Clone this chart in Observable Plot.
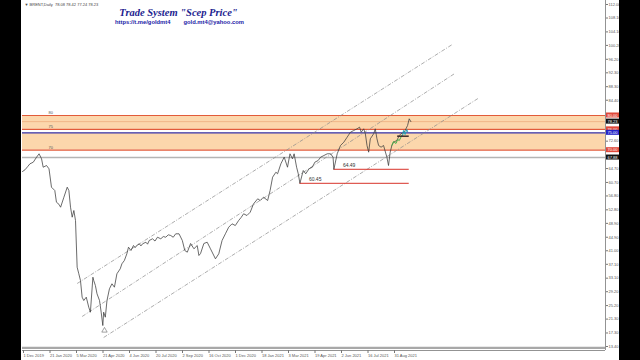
<!DOCTYPE html>
<html><head><meta charset="utf-8">
<script src="https://cdn.jsdelivr.net/npm/d3@7"></script>
<script src="https://cdn.jsdelivr.net/npm/@observablehq/plot@0.6"></script>
<style>
html,body{margin:0;padding:0;background:#fff;width:640px;height:360px;overflow:hidden;}
#wrap{position:relative;width:640px;height:360px;}
#chart svg{display:block;}
.blk{position:absolute;top:0;height:360px;background:#000;}
</style></head><body>
<div id="wrap"><div id="chart"></div><div class="blk" style="left:0;width:21px"></div><div class="blk" style="left:619px;width:21px"></div></div>
<script>
// ---- data ----
const dateLabels = ["1 Dec 2019","21 Jan 2020","5 Mar 2020","21 Apr 2020","4 Jun 2020","20 Jul 2020","2 Sep 2020","16 Oct 2020","1 Dec 2020","18 Jan 2021","3 Mar 2021","19 Apr 2021","2 Jun 2021","16 Jul 2021","31 Aug 2021"];
const barsPerLabel = 32;
const yTicks = [13.40,17.30,21.30,25.20,29.20,33.10,37.10,41.00,44.90,48.90,52.80,56.80,60.70,64.70,72.60,84.40,88.30,92.30,96.20,100.20,104.10,108.10,112.00];

const barIdx = [0,3,6,9,13,17,20,23,25,29,32,35,39,41,44,46,50,54,56,58,60,62,64,66,68,70,72,74,77,80,82,85,86,88,90,93,95,97,98,100,102,105,108,111,114,118,120,123,126,128,131,134,136,138,141,143,145,149,151,153,157,160,163,167,170,173,176,179,182,185,189,193,196,199,203,207,211,213,215,219,223,227,233,237,241,245,249,253,257,261,264,267,271,275,279,284,287,291,296,299,302,306,308,312,316,320,323,326,328,331,333,335,339,342,346,350,353,357,360,364,368,372,375,376,380,384,388,392,396,400,404,407,409,412,414,416,418,420,424,426,428,430,433,436,440,442,444,446,448,452,455,457,461,463,465,467,469];
const closes = [63.85,64.34,65.20,66.07,66.53,67.98,68.96,67.51,65.09,65.58,64.63,59.33,58.37,55.00,54.40,53.56,56.44,59.33,58.37,53.56,50.68,52.61,49.73,36.26,34.36,32.43,27.62,26.66,27.62,24.73,23.29,33.38,32.43,30.99,28.59,26.66,23.29,19.45,23.29,21.85,26.66,30.03,31.48,30.50,34.36,35.80,37.24,38.19,40.13,42.03,41.08,42.52,41.90,42.52,43.01,42.40,43.01,43.47,42.90,43.96,44.45,43.80,44.91,44.45,45.10,44.91,45.60,45.40,44.90,45.89,45.89,43.96,41.08,40.59,43.10,41.57,42.52,39.64,40.21,43.10,43.47,41.57,38.68,40.13,43.96,45.89,47.79,48.77,48.28,49.73,50.60,51.66,51.17,52.12,54.54,55.98,55.49,56.44,55.49,58.37,62.21,63.65,63.19,66.07,68.00,65.09,68.96,67.51,68.96,65.09,63.19,60.45,64.14,63.19,64.63,65.09,66.53,67.02,67.98,68.47,68.96,68.96,67.98,64.49,68.96,71.35,72.30,73.74,75.18,75.67,76.16,76.63,75.18,76.16,74.72,71.35,69.42,73.28,74.72,76.16,73.28,71.35,70.86,71.35,67.98,65.58,69.42,71.35,72.30,72.79,74.23,74.72,75.18,76.16,77.11,79.05,78.23];

const channelStartIdx = [66, 72, 98];
const channelStartVal = [31.56, 22.05, 16.00];
const channelEndIdx = [519, 522, 550];
const channelEndVal = [100.47, 92.11, 84.90];

const bandTop = [80, 75];
const bandBottom = [76, 70];
const redLevels = [80.00, 76.00, 70.00];
const blueLevels = [75.00];
const bidLevel = [78.23];
const greyLevels = [67.88];
const levelTags = ["80", "75", "70"];
const levelTagVals = [80, 76, 70];

const supports = [60.45, 64.49];
const supportStart = [335, 376];
const supportEnd = [467, 467];

const greenIdx = [446, 448, 451, 453, 455, 458];
const greenVal = [71.35, 72.50, 71.93, 73.08, 72.79, 74.23];
const cyanIdx = [459, 460, 462, 464, 465];
const cyanVal = [74.23, 75.67, 74.52, 75.96, 75.38];
const markerBar = [{i: 453, j: 467, v: 74.03}];
const lowMarker = [{i: 99, v: 18.0}];

const header = "▼ BRENT,Daily  78.08 78.42 77.24 78.23";
const title = "Trade System \"Scep Price\"";
const link1 = "https://t.me/goldmt4";
const link2 = "gold.mt4@yahoo.com";

// ---- chart ----
const closeData = barIdx.map((i, k) => ({i, v: closes[k]}));
const channels = channelStartIdx.map((s, k) => ({x1: s, y1: channelStartVal[k], x2: channelEndIdx[k], y2: channelEndVal[k]}));
const bands = bandTop.map((t, k) => ({t, b: bandBottom[k]}));
const supportData = supports.map((v, k) => ({v, s: supportStart[k], e: supportEnd[k]}));
const green = greenIdx.map((i, k) => ({i, v: greenVal[k]}));
const cyan = cyanIdx.map((i, k) => ({i, v: cyanVal[k]}));
const tags = levelTags.map((t, k) => ({t, v: levelTagVals[k]}));
const XMAX = 704;
const TICKFONT = "Liberation Sans";

function priceTag(vals, fill) {
  return [
    Plot.rect(vals, {x1: XMAX, x2: XMAX, y1: d => d, y2: d => d, insetLeft: 1, insetRight: -14, insetTop: -2.5, insetBottom: -2.5, fill}),
    Plot.text(vals, {y: d => d, frameAnchor: "right", dx: 2, textAnchor: "start", lineAnchor: "middle", text: d => d.toFixed(2), fill: "#fff", fontSize: 4, fontFamily: TICKFONT})
  ];
}

const chart = Plot.plot({
  width: 640, height: 360,
  marginLeft: 22, marginRight: 35, marginTop: 0, marginBottom: 10,
  x: {domain: [0, XMAX]},
  y: {domain: [12.25, 113.15]},
  style: {background: "#fff", fontFamily: "Liberation Sans", overflow: "visible"},
  marks: [
    Plot.rect(bands, {y1: "b", y2: "t", fill: "#fcd7ac"}),
    Plot.ruleY(bidLevel, {stroke: "#e9a070", strokeWidth: 0.6}),
    Plot.ruleY(greyLevels, {stroke: "#b4b4b4", strokeWidth: 1.6}),
    Plot.ruleY([13.0], {stroke: "#a8a8a8", strokeWidth: 2.2}),
    Plot.ruleY(redLevels, {stroke: "#e25b3a", strokeWidth: 1.2}),
    Plot.ruleY(blueLevels, {stroke: "#3434b0", strokeWidth: 1.2}),
    Plot.text(tags, {x: 34, y: "v", text: "t", dy: -2.5, fontSize: 4, fill: "#555"}),
    Plot.link(channels, {x1: "x1", y1: "y1", x2: "x2", y2: "y2", stroke: "#8a8a8a", strokeWidth: 0.7, strokeDasharray: "4,1.5,1,1.5"}),
    Plot.ruleY(supportData, {y: "v", x1: "s", x2: "e", stroke: "#d8322a", strokeWidth: 1}),
    Plot.text(supportData, {x: "s", y: "v", text: d => d.v.toFixed(2), dx: 9, dy: -3.5, textAnchor: "start", fontSize: 5, fill: "#333"}),
    Plot.line(closeData, {x: "i", y: "v", stroke: "#3a3a3a", strokeWidth: 0.75}),
    Plot.line(green, {x: "i", y: "v", stroke: "#47b04a", strokeWidth: 1}),
    Plot.line(cyan, {x: "i", y: "v", stroke: "#1fa5b8", strokeWidth: 1}),
    Plot.ruleY(markerBar, {y: "v", x1: "i", x2: "j", stroke: "#3a2a2a", strokeWidth: 1.5}),
    Plot.dot(lowMarker, {x: "i", y: "v", symbol: "triangle", r: 2, stroke: "#666", strokeWidth: 0.6, fill: "none"}),
    Plot.ruleX([XMAX], {stroke: "#777", strokeWidth: 0.8}),
    Plot.ruleY([12.25], {stroke: "#777", strokeWidth: 0.8}),
    Plot.axisY({anchor: "right", ticks: yTicks, tickFormat: d => d.toFixed(2), tickSize: 2, tickPadding: 1, fontSize: 4, fontFamily: TICKFONT, fill: "#555", stroke: "#777"}),
    Plot.axisX({anchor: "bottom", ticks: dateLabels.map((d, k) => k * barsPerLabel), tickFormat: i => dateLabels[Math.round(i / barsPerLabel)], tickSize: 3, tickPadding: 0.5, textAnchor: "start", dx: 1, fontSize: 4, fontFamily: TICKFONT, fill: "#555", stroke: "#777"}),
    ...priceTag(redLevels, "#e0483a"),
    ...priceTag(bidLevel, "#111"),
    ...priceTag(greyLevels, "#111"),
    ...priceTag(blueLevels, "#2424c8"),
    Plot.text([header], {frameAnchor: "top-left", dx: 2, dy: 4, lineAnchor: "middle", textAnchor: "start", fontSize: 4, fill: "#444"}),
    Plot.text([title], {frameAnchor: "top-left", dx: 156, dy: 12.5, lineAnchor: "middle", textAnchor: "middle", fontSize: 10.5, fontStyle: "italic", fontWeight: "bold", fontFamily: "Liberation Serif", fill: "#1d1d8f"}),
    Plot.text([link1], {frameAnchor: "top-left", dx: 92.5, dy: 22, lineAnchor: "middle", textAnchor: "start", fontSize: 5.8, fontWeight: "bold", fontFamily: "Liberation Sans", fill: "#1a1aa6"}),
    Plot.text([link2], {frameAnchor: "top-left", dx: 161, dy: 22, lineAnchor: "middle", textAnchor: "start", fontSize: 5.8, fontWeight: "bold", fontFamily: "Liberation Sans", fill: "#1a1aa6"})
  ]
});
document.getElementById("chart").appendChild(chart);
</script>
</body></html>
